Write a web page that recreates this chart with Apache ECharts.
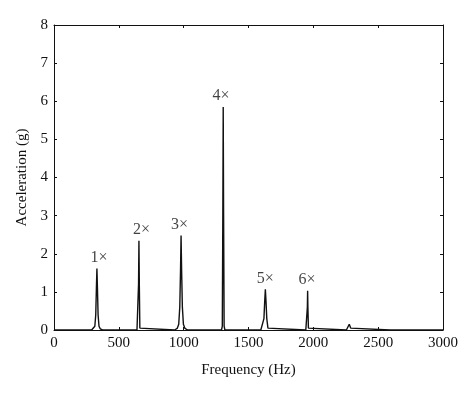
<!DOCTYPE html>
<html>
<head>
<meta charset="utf-8">
<script src="https://cdn.jsdelivr.net/npm/echarts@6/dist/echarts.min.js"></script>
<style>
  html, body { margin: 0; padding: 0; background: #fff; }
  #chart { width: 474px; height: 393px; }
</style>
</head>
<body>
<div id="chart"></div>
<script>
// spectrum (Hz, g)
const freqHz = [
  0,
  290, 305, 315, 322, 327, 331, 335, 340, 347, 357, 375,
  640, 648, 652, 655, 658, 662, 670,
  930, 950, 962, 970, 976, 980, 984, 990, 998, 1010, 1030,
  1292, 1298, 1302, 1305, 1308, 1312, 1318,
  1595, 1610, 1619, 1625, 1630, 1635, 1641, 1650, 1665,
  1942, 1950, 1954, 1956, 1958, 1962, 1970,
  2255, 2266, 2277, 2288, 2299,
  2592, 2604, 2616,
  3000
];
const accelG = [
  0,
  0, 0.03, 0.1, 0.4, 1.1, 1.61, 1.1, 0.4, 0.1, 0.03, 0,
  0, 0.05, 1.2, 2.34, 1.2, 0.05, 0,
  0, 0.04, 0.15, 0.6, 1.6, 2.48, 1.6, 0.6, 0.15, 0.04, 0,
  0, 0.1, 3.0, 5.85, 3.0, 0.1, 0,
  0, 0.05, 0.3, 0.75, 1.065, 0.75, 0.3, 0.05, 0,
  0, 0.05, 0.6, 1.03, 0.6, 0.05, 0,
  0, 0.05, 0.15, 0.05, 0,
  0, 0.03, 0,
  0
];

// harmonic labels
const harmonicLabels = ['1×', '2×', '3×', '4×', '5×', '6×'];
const harmonicFreq = [348, 675, 968, 1288, 1630, 1952];
const harmonicAmp = [1.61, 2.34, 2.48, 5.85, 1.065, 1.03];

const xTicks = [0, 500, 1000, 1500, 2000, 2500, 3000];
const yTicks = [0, 1, 2, 3, 4, 5, 6, 7, 8];

const font = '"Liberation Serif", "DejaVu Serif", serif';
const ink = '#111';

const chart = echarts.init(document.getElementById('chart'), null, { renderer: 'canvas' });

const edgeAxis = {
  axisLine: { show: true, onZero: false, lineStyle: { color: ink, width: 1 } },
  axisTick: { show: true, inside: true, length: 3, lineStyle: { color: ink } },
  splitLine: { show: false },
};

chart.setOption({
  animation: false,
  backgroundColor: '#fff',
  grid: { left: 54, right: 31, top: 25, bottom: 63 },
  xAxis: [
    {
      type: 'value',
      min: xTicks[0],
      max: xTicks[xTicks.length - 1],
      interval: 500,
      position: 'bottom',
      name: 'Frequency (Hz)',
      nameLocation: 'middle',
      nameGap: 33,
      nameTextStyle: { fontFamily: font, fontSize: 15, color: ink },
      axisLabel: { fontFamily: font, fontSize: 15, color: ink, margin: 6, formatter: (v) => String(v) },
      ...edgeAxis,
    },
    {
      type: 'value',
      min: xTicks[0],
      max: xTicks[xTicks.length - 1],
      interval: 500,
      position: 'top',
      axisLabel: { show: false },
      ...edgeAxis,
    },
  ],
  yAxis: [
    {
      type: 'value',
      min: yTicks[0],
      max: yTicks[yTicks.length - 1],
      interval: 1,
      position: 'left',
      name: 'Acceleration (g)',
      nameLocation: 'middle',
      nameGap: 24,
      nameTextStyle: { fontFamily: font, fontSize: 15, color: ink },
      axisLabel: { fontFamily: font, fontSize: 15, color: ink, margin: 6 },
      ...edgeAxis,
    },
    {
      type: 'value',
      min: yTicks[0],
      max: yTicks[yTicks.length - 1],
      interval: 1,
      position: 'right',
      axisLabel: { show: false },
      ...edgeAxis,
    },
  ],
  series: [
    {
      name: 'spectrum',
      type: 'line',
      data: freqHz.map((f, i) => [f, accelG[i]]),
      showSymbol: false,
      smooth: false,
      lineStyle: { color: ink, width: 1.4 },
      z: 3,
    },
    {
      name: 'harmonics',
      type: 'scatter',
      data: harmonicFreq.map((f, i) => [f, harmonicAmp[i]]),
      symbolSize: 0,
      label: {
        show: true,
        position: 'top',
        distance: 3,
        fontFamily: font,
        fontSize: 16,
        color: ink,
        formatter: (p) => harmonicLabels[p.dataIndex],
      },
      z: 4,
    },
  ],
});
</script>
</body>
</html>
